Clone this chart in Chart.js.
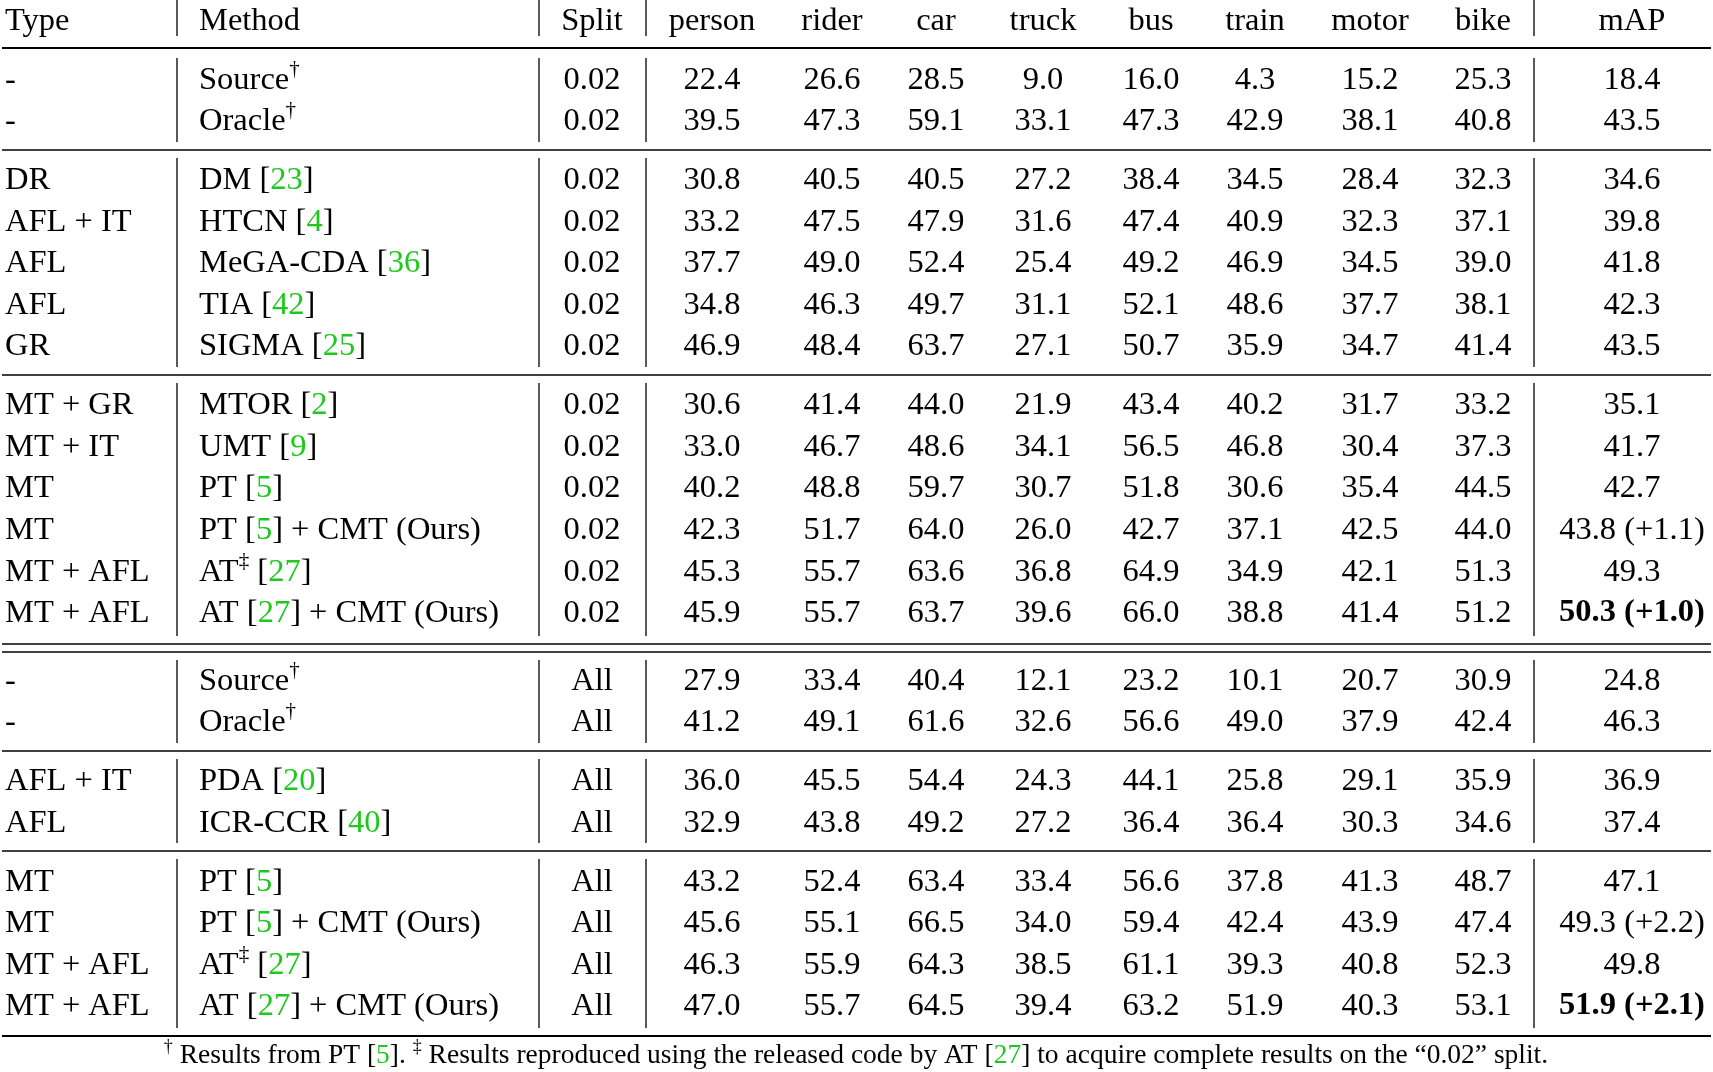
<!DOCTYPE html>
<html><head><meta charset="utf-8">
<script src="https://cdn.jsdelivr.net/npm/chart.js@4/dist/chart.umd.min.js"></script>
<style>html,body{margin:0;background:#fff}#wrap{width:1713px;height:1072px}</style>
</head><body><div id="wrap"><canvas id="c"></canvas></div>
<script>
// Datos de la tabla
const headers = ['Type', 'Method', 'Split', 'person', 'rider', 'car', 'truck', 'bus', 'train', 'motor', 'bike', 'mAP'];
const types = ['-', '-', 'DR', 'AFL + IT', 'AFL', 'AFL', 'GR', 'MT + GR', 'MT + IT', 'MT', 'MT', 'MT + AFL', 'MT + AFL',
    '-', '-', 'AFL + IT', 'AFL', 'MT', 'MT', 'MT + AFL', 'MT + AFL'];
const methods = ['Source^†', 'Oracle^†', 'DM [23]', 'HTCN [4]', 'MeGA-CDA [36]', 'TIA [42]', 'SIGMA [25]',
    'MTOR [2]', 'UMT [9]', 'PT [5]', 'PT [5] + CMT (Ours)', 'AT^‡ [27]', 'AT [27] + CMT (Ours)',
    'Source^†', 'Oracle^†', 'PDA [20]', 'ICR-CCR [40]', 'PT [5]', 'PT [5] + CMT (Ours)', 'AT^‡ [27]', 'AT [27] + CMT (Ours)'];
const splits = ['0.02', '0.02', '0.02', '0.02', '0.02', '0.02', '0.02', '0.02', '0.02', '0.02', '0.02', '0.02', '0.02',
    'All', 'All', 'All', 'All', 'All', 'All', 'All', 'All'];
const person = [22.4, 39.5, 30.8, 33.2, 37.7, 34.8, 46.9, 30.6, 33.0, 40.2, 42.3, 45.3, 45.9, 27.9, 41.2, 36.0, 32.9, 43.2, 45.6, 46.3, 47.0];
const rider = [26.6, 47.3, 40.5, 47.5, 49.0, 46.3, 48.4, 41.4, 46.7, 48.8, 51.7, 55.7, 55.7, 33.4, 49.1, 45.5, 43.8, 52.4, 55.1, 55.9, 55.7];
const car = [28.5, 59.1, 40.5, 47.9, 52.4, 49.7, 63.7, 44.0, 48.6, 59.7, 64.0, 63.6, 63.7, 40.4, 61.6, 54.4, 49.2, 63.4, 66.5, 64.3, 64.5];
const truck = [9.0, 33.1, 27.2, 31.6, 25.4, 31.1, 27.1, 21.9, 34.1, 30.7, 26.0, 36.8, 39.6, 12.1, 32.6, 24.3, 27.2, 33.4, 34.0, 38.5, 39.4];
const bus = [16.0, 47.3, 38.4, 47.4, 49.2, 52.1, 50.7, 43.4, 56.5, 51.8, 42.7, 64.9, 66.0, 23.2, 56.6, 44.1, 36.4, 56.6, 59.4, 61.1, 63.2];
const train = [4.3, 42.9, 34.5, 40.9, 46.9, 48.6, 35.9, 40.2, 46.8, 30.6, 37.1, 34.9, 38.8, 10.1, 49.0, 25.8, 36.4, 37.8, 42.4, 39.3, 51.9];
const motor = [15.2, 38.1, 28.4, 32.3, 34.5, 37.7, 34.7, 31.7, 30.4, 35.4, 42.5, 42.1, 41.4, 20.7, 37.9, 29.1, 30.3, 41.3, 43.9, 40.8, 40.3];
const bike = [25.3, 40.8, 32.3, 37.1, 39.0, 38.1, 41.4, 33.2, 37.3, 44.5, 44.0, 51.3, 51.2, 30.9, 42.4, 35.9, 34.6, 48.7, 47.4, 52.3, 53.1];
const mAP = ['18.4', '43.5', '34.6', '39.8', '41.8', '42.3', '43.5', '35.1', '41.7', '42.7', '43.8 (+1.1)', '49.3', '**50.3 (+1.0)',
    '24.8', '46.3', '36.9', '37.4', '47.1', '49.3 (+2.2)', '49.8', '**51.9 (+2.1)'];
const footnote = '^† Results from PT [5]. ^‡ Results reproduced using the released code by AT [27] to acquire complete results on the “0.02” split.';

// Posiciones (coordenadas del lienzo 1713x1072)
const colX = [5, 199, 592, 712, 832, 936, 1043, 1151, 1255, 1370, 1483, 1632];
const rowY = [80, 121, 180, 222, 263, 305, 346, 405, 447, 488, 530, 572, 613, 681, 722, 781, 823, 882, 923, 965, 1006];
const headerY = 21;
const rules = [[48, 2.2], [150, 1.3], [375, 1.3], [644, 1.3], [652, 1.3], [751, 1.3], [851, 1.3], [1036, 2.2]];
const vLines = [177, 539, 646, 1534];
const GREEN = '#1ec81e';
const FS = 32.5;
const FONT = FS + 'px "Liberation Serif", "Times New Roman", serif';
const BOLD = 'bold ' + FS + 'px "Liberation Serif", "Times New Roman", serif';

const numCols = [person, rider, car, truck, bus, train, motor, bike];

// Dibuja un texto con refs verdes [n] y superíndices ^†
function drawRich(ctx, text, x, y, align, size) {
    size = size || FS;
    let bold = false;
    if (text.startsWith('**')) { bold = true; text = text.slice(2); }
    const tokens = text.split(/(\[\d+\]|\^[†‡])/).filter(t => t);
    const base = (bold ? 'bold ' : '') + size + 'px "Liberation Serif", "Times New Roman", serif';
    const sup = Math.round(size * 0.66) + 'px "Liberation Serif", serif';
    const measure = t => { ctx.font = t.startsWith('^') ? sup : base; return ctx.measureText(t.startsWith('^') ? t.slice(1) : t).width; };
    const total = tokens.reduce((s, t) => s + measure(t), 0);
    let cx = align === 'center' ? x - total / 2 : x;
    ctx.textAlign = 'left';
    for (const t of tokens) {
        if (t.startsWith('^')) {
            ctx.font = sup; ctx.fillStyle = '#000';
            ctx.fillText(t.slice(1), cx, y - size * 0.33);
            cx += ctx.measureText(t.slice(1)).width;
        } else if (t.startsWith('[')) {
            ctx.font = base;
            ctx.fillStyle = '#000'; ctx.fillText('[', cx, y); cx += ctx.measureText('[').width;
            const n = t.slice(1, -1);
            ctx.fillStyle = GREEN; ctx.fillText(n, cx, y); cx += ctx.measureText(n).width;
            ctx.fillStyle = '#000'; ctx.fillText(']', cx, y); cx += ctx.measureText(']').width;
        } else {
            ctx.font = base; ctx.fillStyle = '#000';
            ctx.fillText(t, cx, y); cx += ctx.measureText(t).width;
        }
    }
}

const tablePlugin = {
    id: 'tabla',
    afterDraw(chart) {
        const ctx = chart.ctx, xs = chart.scales.x, ys = chart.scales.y;
        const X = v => xs.getPixelForValue(v), Y = v => ys.getPixelForValue(v);
        ctx.save();
        ctx.textBaseline = 'middle';
        ctx.strokeStyle = '#000';
        rules.forEach(([y, w]) => { ctx.lineWidth = w; ctx.beginPath(); ctx.moveTo(X(2), Y(y)); ctx.lineTo(X(1711), Y(y)); ctx.stroke(); });
        ctx.lineWidth = 1.3;
        vLines.forEach(x => { ctx.beginPath(); ctx.moveTo(X(x), Y(0)); ctx.lineTo(X(x), Y(36)); ctx.stroke();
            [[58, 142], [158, 367], [383, 636], [660, 743], [759, 843], [859, 1028]].forEach(([a, b]) => {
                ctx.beginPath(); ctx.moveTo(X(x), Y(a)); ctx.lineTo(X(x), Y(b)); ctx.stroke(); });
        });
        headers.forEach((h, i) => drawRich(ctx, h, X(colX[i]), Y(headerY), i < 2 ? 'left' : 'center'));
        rowY.forEach((ry, r) => {
            drawRich(ctx, types[r], X(colX[0]), Y(ry), 'left');
            drawRich(ctx, methods[r], X(colX[1]), Y(ry), 'left');
            drawRich(ctx, splits[r], X(colX[2]), Y(ry), 'center');
            numCols.forEach((col, c) => drawRich(ctx, col[r].toFixed(1), X(colX[c + 3]), Y(ry), 'center'));
            drawRich(ctx, mAP[r], X(colX[11]), Y(ry), 'center');
        });
        // nota al pie, más pequeña
        drawRich(ctx, footnote, X(856), Y(1056), 'center', 27.5);
        ctx.restore();
    }
};

new Chart(document.getElementById('c'), {
    type: 'scatter',
    data: { datasets: [{ data: rowY.map(y => ({ x: colX[0], y })), pointRadius: 0 }] },
    options: {
        responsive: true, maintainAspectRatio: false, animation: false,
        layout: { padding: 0 },
        plugins: { legend: { display: false }, tooltip: { enabled: false } },
        scales: {
            x: { type: 'linear', min: 0, max: 1713, display: false },
            y: { type: 'linear', min: 0, max: 1072, reverse: true, display: false }
        }
    },
    plugins: [tablePlugin]
});
</script>
</body></html>
